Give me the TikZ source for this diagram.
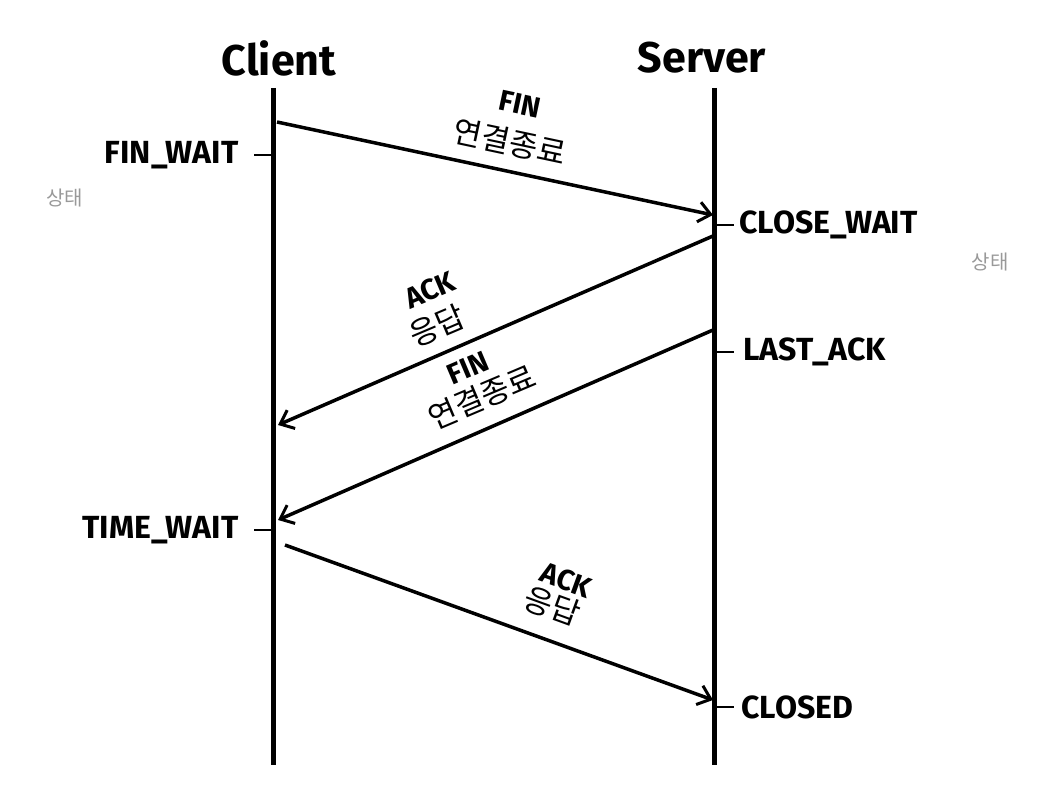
\documentclass[tikz,border=0pt]{standalone}
\usepackage{fontspec}
\setmainfont{Fira Sans}
\newfontfamily\kr{Noto Sans CJK KR}
\usetikzlibrary{arrows.meta}
\begin{document}
\begin{tikzpicture}[x=1pt,y=-1pt,
  life/.style={line width=5pt},
  msg/.style={line width=3.5pt,-{Straight Barb[length=12pt,width=20pt,line width=3pt]}},
  tick/.style={line width=1.5pt},
  st/.style={font=\fontsize{32}{34}\selectfont\bfseries},
  ml/.style={font=\fontsize{29}{32}\selectfont\bfseries},
  kl/.style={font=\kr\fontsize{31}{34}\selectfont},
  gr/.style={font=\kr\fontsize{20}{22}\selectfont,text=gray!80},
  ttl/.style={font=\fontsize{43}{46}\selectfont\bfseries}]
\useasboundingbox (0,0) rectangle (1050,800);
\node[ttl] (ct) at (279,58) {Client};
\node[ttl] (sv) at (702,58) {Server};
\coordinate (c0) at (273,88); \coordinate (c1) at (273,765);
\coordinate (s0) at (714,88); \coordinate (s1) at (714,765);
\draw[life] (c0)--(c1); \draw[life] (s0)--(s1);
% ticks & states
\coordinate (t1a) at (254,155); \coordinate (t1b) at (273,155);
\draw[tick] (t1a)--(t1b); \node[st,anchor=east] (fw) at (242,155) {FIN\_WAIT};
\node[gr] (g1) at (65,198) {상태};
\coordinate (t2a) at (714,225); \coordinate (t2b) at (734,225);
\draw[tick] (t2a)--(t2b); \node[st,anchor=west] (cw) at (736,225) {CLOSE\_WAIT};
\node[gr] (g2) at (990,262) {상태};
\coordinate (t3a) at (714,352); \coordinate (t3b) at (734,352);
\draw[tick] (t3a)--(t3b); \node[st,anchor=west] (la) at (740,352) {LAST\_ACK};
\coordinate (t4a) at (254,530); \coordinate (t4b) at (273,530);
\draw[tick] (t4a)--(t4b); \node[st,anchor=east] (tw) at (242,530) {TIME\_WAIT};
\coordinate (t5a) at (714,707); \coordinate (t5b) at (734,707);
\draw[tick] (t5a)--(t5b); \node[st,anchor=west] (cl) at (738,707) {CLOSED};
% messages
\coordinate (m1a) at (277,122); \coordinate (m1b) at (713,215);
\draw[msg] (m1a)--(m1b);
\node[ml,rotate=-12] (l1a) at (520,104) {FIN};
\node[kl,rotate=-12] (l1b) at (510,142) {연결종료};
\coordinate (m2a) at (713,236); \coordinate (m2b) at (278,425);
\draw[msg] (m2a)--(m2b);
\node[ml,rotate=23] (l2a) at (430,290) {ACK};
\node[kl,rotate=23] (l2b) at (437,326) {응답};
\coordinate (m3a) at (713,330); \coordinate (m3b) at (278,520);
\draw[msg] (m3a)--(m3b);
\node[ml,rotate=23] (l3a) at (468,368) {FIN};
\node[kl,rotate=23] (l3b) at (482,397) {연결종료};
\coordinate (m4a) at (285,545); \coordinate (m4b) at (713,700);
\draw[msg] (m4a)--(m4b);
\node[ml,rotate=-20] (l4a) at (566,580) {ACK};
\node[kl,rotate=-20] (l4b) at (552,606) {응답};
\end{tikzpicture}
\end{document}
